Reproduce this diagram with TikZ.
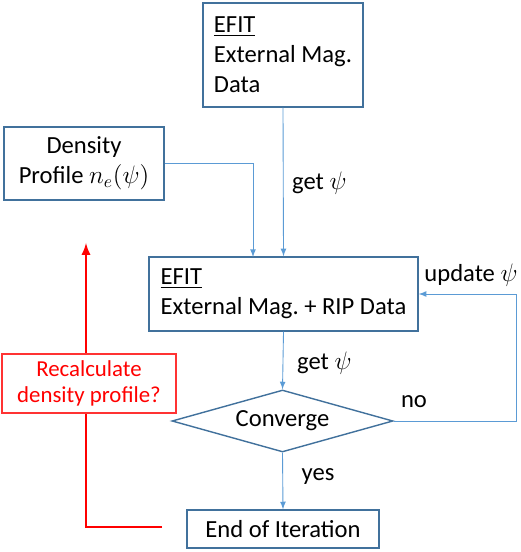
\documentclass[tikz,border=0pt]{standalone}
\usepackage{fontspec}
\setmainfont{Carlito}
\usetikzlibrary{shapes.geometric}

\definecolor{boxblue}{HTML}{41719C}
\definecolor{lineblue}{HTML}{5B9BD5}
\tikzstyle{blk}=[draw=boxblue,line width=0.8pt,fill=white,inner sep=0pt]
\tikzstyle{flow}=[draw=lineblue,line width=0.5pt,->]
\tikzset{>=latex}

\begin{document}
\frenchspacing
\begin{tikzpicture}[font=\fontsize{14}{17}\selectfont]
  \useasboundingbox (0,0) rectangle (10.4,-11.04);
  % Boxes
  \node[blk,minimum width=3.2cm,minimum height=2.08cm,align=left] (ext) at (5.66,-1.10) {\underline{EFIT}\\External Mag.\\Data};
  \node[blk,minimum width=3.2cm,minimum height=1.46cm,align=center] (dens) at (1.68,-3.27) {Density\\Profile $n_e(\psi)$};
  \node[blk,minimum width=5.38cm,minimum height=1.48cm,align=left] (rip) at (5.67,-5.88) {\underline{EFIT}\\External Mag. + RIP Data};
  \node[blk,diamond,aspect=3.56,minimum width=4.42cm,minimum height=1.24cm] (conv) at (5.65,-8.42) {Converge};
  \node[blk,minimum width=3.84cm,minimum height=0.76cm] (end) at (5.66,-10.58) {End of Iteration};

  % Red feedback
  \coordinate (rs) at (3.24,-10.54);
  \coordinate (rt) at (1.72,-4.86);
  \draw[red,line width=1.3pt,->] (rs) -| (rt);
  \node[draw=red!80!white,line width=0.6pt,fill=white,text=red,minimum width=3.48cm,minimum height=1.18cm,align=center,inner sep=0pt,font=\fontsize{13}{15}\selectfont] (recalc) at (1.78,-7.67) {Recalculate\\density profile?};

  % Flow arrows
  \draw[flow] (ext.south) -- (rip.north);
  \draw[flow] (dens.east) -| (5.06,-5.14);
  \draw[flow] (rip.south) -- (conv.north);
  \draw[flow] (conv.south) -- (end.north);
  \draw[flow] (conv.east) -- (10.32,-8.42) |- (rip.east);

  % Labels
  \node[right] (get1) at (5.72,-3.66) {get $\psi$};
  \node[right] (get2) at (5.82,-7.26) {get $\psi$};
  \node (upd) at (9.42,-5.5) {update $\psi$};
  \node (no) at (8.28,-8.04) {no};
  \node (yes) at (6.36,-9.54) {yes};
\end{tikzpicture}
\end{document}
